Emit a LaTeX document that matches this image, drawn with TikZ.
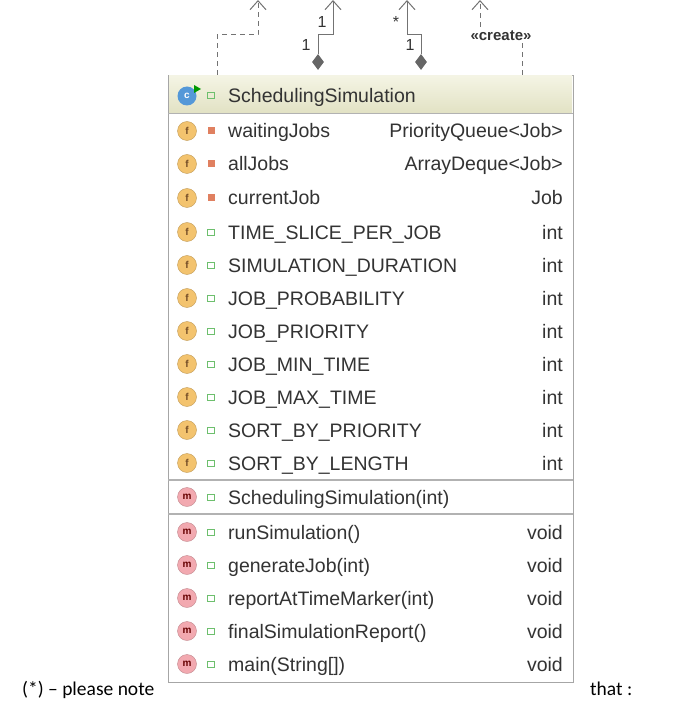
\documentclass[tikz,border=0pt]{standalone}
\usepackage{fontspec}
\setmainfont{Liberation Sans}
\newfontfamily\footfont{Carlito}
\usetikzlibrary{arrows.meta,shapes.geometric}
\definecolor{txt}{HTML}{333333}
\definecolor{fieldc}{HTML}{F3C36E}
\definecolor{methc}{HTML}{F2A9B0}
\definecolor{pubc}{HTML}{6DBF6D}
\definecolor{privc}{HTML}{E08060}
\definecolor{hdrA}{HTML}{F4F4E4}
\definecolor{hdrB}{HTML}{E2E2C4}
\tikzset{
  x=1pt,y=-1pt,
  lbl/.style={anchor=base west,inner sep=0pt,font=\fontsize{19.5}{19.5}\selectfont,text=txt},
  typ/.style={anchor=base east,inner sep=0pt,font=\fontsize{19.5}{19.5}\selectfont,text=txt},
  conn/.style={draw=gray!90!black,line width=1pt},
  dep/.style={conn,dashed,dash pattern=on 5pt off 4pt},
  open/.style={-{Straight Barb[length=9pt,width=16pt]}},
  mult/.style={inner sep=1pt,font=\fontsize{16}{16}\selectfont,text=txt},
  ficon/.style={circle,fill=fieldc,draw=fieldc!80!black,minimum size=19pt,inner sep=0pt,font=\fontsize{10}{10}\selectfont\bfseries,text=brown!60!black},
  micon/.style={circle,fill=methc,draw=methc!80!black,minimum size=19pt,inner sep=0pt,font=\fontsize{10}{10}\selectfont\bfseries,text=red!40!black},
  publ/.style={draw=pubc,line width=1pt,minimum width=7pt,minimum height=6pt,inner sep=0pt},
  priv/.style={fill=privc,minimum width=7pt,minimum height=7pt,inner sep=0pt},
  dia/.style={fill=gray!80!black,shape=diamond,minimum width=12pt,minimum height=16pt,inner sep=0pt},
}
\begin{document}
\begin{tikzpicture}
\useasboundingbox (0,0) rectangle (677,727);
% class box
\node[draw=gray!70,fill=white,minimum width=405pt,minimum height=607pt,anchor=north west,inner sep=0pt] (cls) at (168,75) {};
\fill[top color=hdrA,bottom color=hdrB] (169,76) rectangle (572,113);
\draw[gray!60] (168,113) -- (573,113);
\draw[gray!60,line width=1.2pt] (168,480) -- (573,480);
\draw[gray!60,line width=1.2pt] (168,514) -- (573,514);
% header
\node[circle,fill=cyan!60!blue!70,minimum size=19pt,inner sep=0pt,font=\fontsize{10}{10}\selectfont\bfseries,text=white] (hic) at (187,96) {c};
\fill[green!60!black] (194,85) -- (201,89) -- (194,93) -- cycle;
\node[publ] (hl) at (211,96) {};
\node[lbl] (hname) at (228,103) {SchedulingSimulation};
% fields
\foreach \y/\n/\t/\acc [count=\i] in {131/waitingJobs/PriorityQueue<Job>/priv,164/allJobs/ArrayDeque<Job>/priv,198/currentJob/Job/priv,232/TIME\_SLICE\_PER\_JOB/int/publ,265/SIMULATION\_DURATION/int/publ,298/JOB\_PROBABILITY/int/publ,331/JOB\_PRIORITY/int/publ,364/JOB\_MIN\_TIME/int/publ,397/JOB\_MAX\_TIME/int/publ,430/SORT\_BY\_PRIORITY/int/publ,463/SORT\_BY\_LENGTH/int/publ}{
  \node[ficon] (fi\i) at (187,\y) {f};
  \node[\acc] (fa\i) at (211,\y) {};
  \node[lbl] (fn\i) at (228,\y+7) {\n};
  \node[typ] (ft\i) at (563,\y+7) {\t};
}
% constructor
\node[micon] (ci) at (187,497) {m};
\node[publ] (ca) at (211,497) {};
\node[lbl] (cn) at (228,504) {SchedulingSimulation(int)};
% methods
\foreach \y/\n [count=\i] in {532/runSimulation(),565/generateJob(int),598/reportAtTimeMarker(int),631/finalSimulationReport(),664/main(String[])}{
  \node[micon] (mi\i) at (187,\y) {m};
  \node[publ] (ma\i) at (211,\y) {};
  \node[lbl] (mn\i) at (228,\y+7) {\n};
  \node[typ] (mt\i) at (563,\y+7) {void};
}
% connectors
\coordinate (t1) at (258,0);
\coordinate (s1) at (217,75);
\draw[dep,open] (s1) -- (217,35) -- (258,35) -- (t1);
\node[dia] (d2) at (318,62) {};
\coordinate (t2) at (333,0);
\draw[conn,open] (d2.north) -- (318,35) -- (333,35) -- (t2);
\node[mult] (m2a) at (306,45) {1};
\node[mult] (m2b) at (322,22) {1};
\node[dia] (d3) at (421,62) {};
\coordinate (t3) at (407,0);
\draw[conn,open] (d3.north) -- (421,35) -- (407,35) -- (t3);
\node[mult] (m3a) at (410,45) {1};
\node[mult] (m3b) at (396,22) {*};
\coordinate (t4) at (480,0);
\coordinate (s4) at (522,75);
\draw[dep,open] (s4) -- (522,35) -- (480,35) -- (t4);
\node[fill=white,inner sep=1pt,font=\fontsize{15}{15}\selectfont\bfseries,text=txt] (cr) at (501,36) {«create»};
% footer
\node[anchor=base west,inner sep=0pt,font=\footfont\fontsize{19.5}{19.5}\selectfont] (f1) at (22,695) {(*) – please note};
\node[anchor=base west,inner sep=0pt,font=\footfont\fontsize{19.5}{19.5}\selectfont] (f2) at (590,695) {that :};
\end{tikzpicture}
\end{document}
